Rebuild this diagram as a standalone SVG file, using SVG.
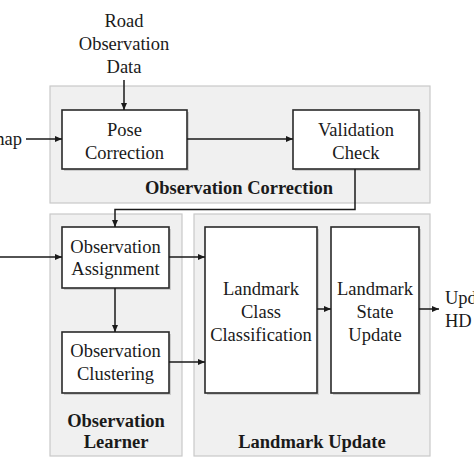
<svg xmlns="http://www.w3.org/2000/svg" width="474" height="474" viewBox="0 0 474 474">
<style>
.panel{fill:#f0f0f0;stroke:#c9c9c9;stroke-width:1.2}
.box{fill:#ffffff;stroke:#2a2a2a;stroke-width:1.6}
.shadow{fill:#b4b4b4;opacity:0.6}
.t{font-family:"Liberation Serif","Times New Roman",serif;font-size:18.5px;fill:#1a1a1a;text-anchor:middle}
.b{font-weight:bold}
.s{text-anchor:start}
.e{text-anchor:end}
.c{fill:none;stroke:#1a1a1a;stroke-width:1.5}
</style>
<defs>
<marker id="ah" markerWidth="8" markerHeight="8" refX="7" refY="4" orient="auto" markerUnits="userSpaceOnUse">
<path d="M0,1 L7,4 L0,7 Z" fill="#1a1a1a"/>
</marker>
</defs>
<rect width="474" height="474" fill="#ffffff"/>
<g id="panel-correction">
<rect class="panel" x="50" y="86" width="380" height="117"/>
<text class="t b" x="239" y="194">Observation Correction</text>
</g>
<g id="panel-learner">
<rect class="panel" x="50" y="214" width="132" height="242"/>
<text class="t b" x="116" y="427">Observation</text>
<text class="t b" x="116" y="448">Learner</text>
</g>
<g id="panel-update">
<rect class="panel" x="194" y="214" width="236" height="242"/>
<text class="t b" x="312" y="448">Landmark Update</text>
</g>
<g id="input-road">
<text class="t" x="124" y="27">Road</text>
<text class="t" x="124" y="50">Observation</text>
<text class="t" x="124" y="73">Data</text>
</g>
<g id="input-map">
<text class="t e" x="22" y="145">map</text>
</g>
<g id="output-map">
<text class="t s" x="445" y="304">Updated</text>
<text class="t s" x="445" y="327">HD Map</text>
</g>
<g id="pose-correction">
<rect class="shadow" x="64" y="112" width="125" height="59"/>
<rect class="box" x="62" y="110" width="125" height="59"/>
<text class="t" x="124.5" y="136">Pose</text>
<text class="t" x="124.5" y="159">Correction</text>
</g>
<g id="validation-check">
<rect class="shadow" x="295" y="112" width="126" height="59"/>
<rect class="box" x="293" y="110" width="126" height="59"/>
<text class="t" x="356" y="136">Validation</text>
<text class="t" x="356" y="159">Check</text>
</g>
<g id="observation-assignment">
<rect class="shadow" x="64" y="229" width="107" height="61"/>
<rect class="box" x="62" y="227" width="107" height="61"/>
<text class="t" x="115.5" y="253">Observation</text>
<text class="t" x="115.5" y="275">Assignment</text>
</g>
<g id="observation-clustering">
<rect class="shadow" x="64" y="334" width="107" height="61"/>
<rect class="box" x="62" y="332" width="107" height="61"/>
<text class="t" x="115.5" y="357">Observation</text>
<text class="t" x="115.5" y="380">Clustering</text>
</g>
<g id="landmark-class">
<rect class="shadow" x="207" y="229" width="112" height="166"/>
<rect class="box" x="205" y="227" width="112" height="166"/>
<text class="t" x="261" y="295">Landmark</text>
<text class="t" x="261" y="318">Class</text>
<text class="t" x="261" y="341">Classification</text>
</g>
<g id="landmark-state">
<rect class="shadow" x="333" y="229" width="88" height="166"/>
<rect class="box" x="331" y="227" width="88" height="166"/>
<text class="t" x="375" y="295">Landmark</text>
<text class="t" x="375" y="318">State</text>
<text class="t" x="375" y="341">Update</text>
</g>
<g id="connectors">
<path class="c" d="M124,80 L124,110" marker-end="url(#ah)"/>
<path class="c" d="M26,139 L62,139" marker-end="url(#ah)"/>
<path class="c" d="M187,139 L293,139" marker-end="url(#ah)"/>
<path class="c" d="M355,169 L355,209.5 L115,209.5 L115,227" marker-end="url(#ah)"/>
<path class="c" d="M0,257 L62,257" marker-end="url(#ah)"/>
<path class="c" d="M169,257 L205,257" marker-end="url(#ah)"/>
<path class="c" d="M115,288 L115,332" marker-end="url(#ah)"/>
<path class="c" d="M169,362 L205,362" marker-end="url(#ah)"/>
<path class="c" d="M317,309 L331,309" marker-end="url(#ah)"/>
<path class="c" d="M419,309 L439,309" marker-end="url(#ah)"/>
</g>
</svg>
